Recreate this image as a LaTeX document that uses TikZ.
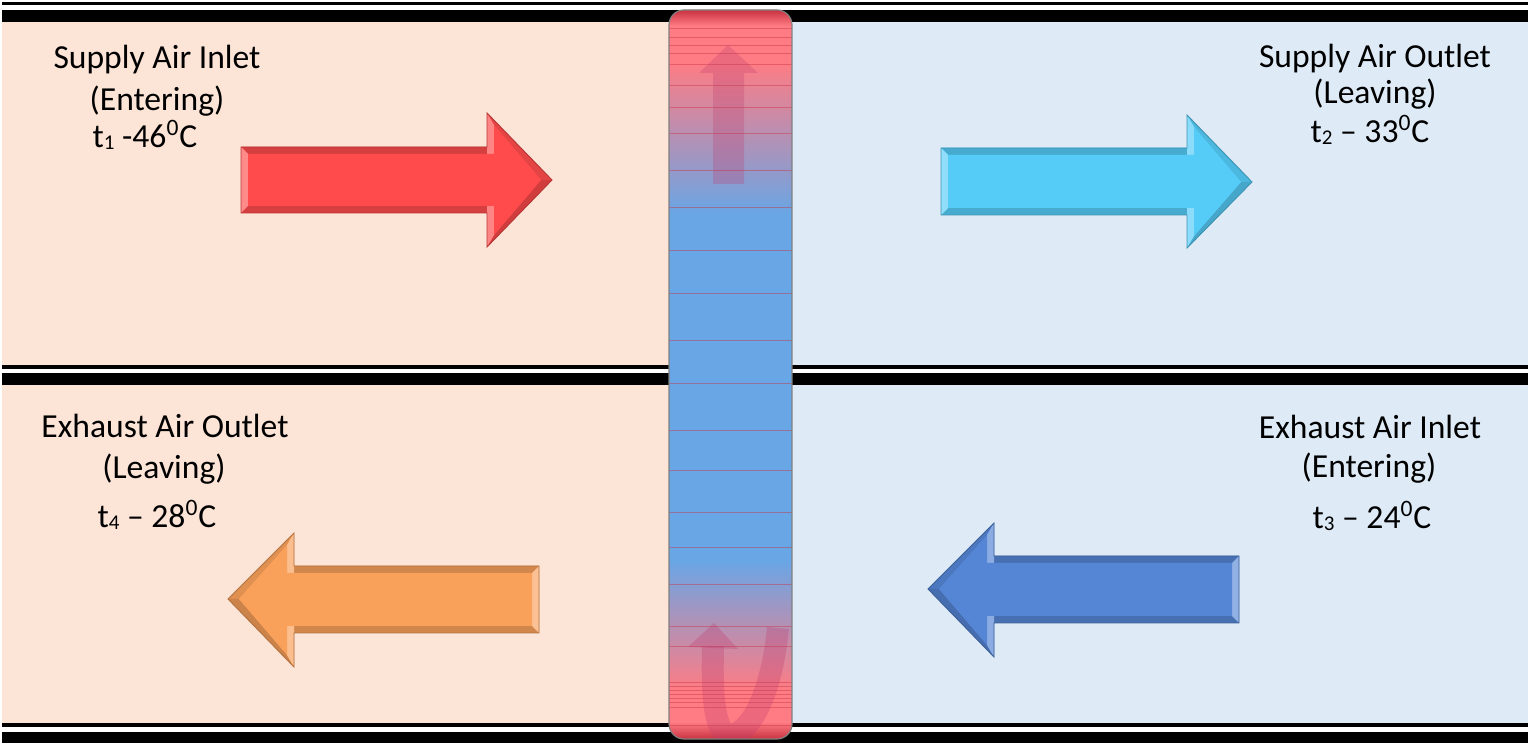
\documentclass[tikz,border=0pt]{standalone}
\usepackage{fontspec}
\setmainfont{Carlito}
\definecolor{peach}{RGB}{252,228,214}
\definecolor{paleblue}{RGB}{222,235,247}
\definecolor{colred}{RGB}{255,124,132}
\definecolor{coldark}{RGB}{200,50,65}
\definecolor{colblue}{RGB}{104,166,230}
\definecolor{arrred}{RGB}{255,75,75}
\definecolor{arrcyan}{RGB}{85,204,248}
\definecolor{arrorange}{RGB}{249,160,90}
\definecolor{arrblue}{RGB}{85,133,213}
\definecolor{tint}{RGB}{190,60,110}
\newcommand\sbs[1]{\raisebox{-0.1ex}{\fontsize{10.5}{10.5}\selectfont #1}}
\newcommand\mydeg{\textsuperscript{0}}
% right-pointing bevelled arrow: color, x0, yb0, yb1, xh, yh0, yh1, xt, yt
\newcommand\bevarrow[9]{%
  \fill[#1] (#2,#3) -- (#5,#3) -- (#5,#6) -- (#8,#9) -- (#5,#7) -- (#5,#4) -- (#2,#4) -- cycle;
  \fill[#1!84!black] (#2,#3) -- (#5+7,#3) -- (#5+7,#3+7) -- (#2+7,#3+7) -- cycle;
  \fill[#1!84!black] (#2,#4) -- (#5+7,#4) -- (#5+7,#4-7) -- (#2+7,#4-7) -- cycle;
  \fill[#1!90!black] (#5,#6) -- (#8,#9) -- (#8-11,#9) -- (#5+7,#6+12) -- cycle;
  \fill[#1!82!black] (#5,#7) -- (#8,#9) -- (#8-11,#9) -- (#5+7,#7-12) -- cycle;
  \fill[#1!65!white] (#2,#3) -- (#2+7,#3+7) -- (#2+7,#4-7) -- (#2,#4) -- cycle;
  \fill[#1!68!white] (#5,#6) -- (#5+7,#6+12) -- (#5+7,#3+7) -- (#5,#3+7) -- cycle;
  \fill[#1!68!white] (#5,#7) -- (#5+7,#7-12) -- (#5+7,#4-7) -- (#5,#4-7) -- cycle;
  \fill[#1] (#2+7,#3+7) -- (#5+7,#3+7) -- (#5+7,#6+12) -- (#8-11,#9) -- (#5+7,#7-12) -- (#5+7,#4-7) -- (#2+7,#4-7) -- cycle;
  \draw[#1!72!black, line width=0.45pt, line join=miter] (#2,#3) -- (#5,#3) -- (#5,#6) -- (#8,#9) -- (#5,#7) -- (#5,#4) -- (#2,#4) -- cycle;
}
\tikzset{
  lbl/.style={font=\fontsize{16.8}{20}\selectfont, anchor=base, inner sep=0pt},
  tlbl/.style={lbl, text height=11.5pt},
  duct/.style={line width=#1, black},
  colline/.style={coldark, line width=0.45pt, opacity=0.45}
}
\begin{document}
\begin{tikzpicture}[x=0.5pt,y=-0.5pt]
\useasboundingbox (0,0) rectangle (1536,747);
\fill[white] (0,0) rectangle (1536,747);
% panels
\fill[peach] (2,22) rectangle (700,366);
\fill[peach] (2,385) rectangle (700,724);
\fill[paleblue] (760,22) rectangle (1528,366);
\fill[paleblue] (760,385) rectangle (1528,724);
% duct walls
\draw[duct=1.5pt] (2,3.5) -- (1528,3.5);
\draw[duct=6pt] (2,16) -- (1528,16);
\draw[duct=2pt] (2,367) -- (1528,367);
\draw[duct=6pt] (2,379) -- (1528,379);
\draw[duct=2pt] (2,725) -- (1528,725);
\draw[duct=5.5pt] (2,737.5) -- (1528,737.5);
% heat exchanger column
\begin{scope}
\clip[rounded corners=7.5pt] (669,10) rectangle (792,739);
\fill[colred] (669,10) rectangle (792,62);
\fill[top color=coldark, bottom color=colred] (669,10) rectangle (792,26);
\fill[top color=colred, bottom color=colblue] (669,62) rectangle (792,215);
\fill[colblue] (669,215) rectangle (792,560);
\fill[top color=colblue, bottom color=colred] (669,560) rectangle (792,690);
\fill[colred] (669,690) rectangle (792,739);
\fill[top color=colred, bottom color=coldark] (669,722) rectangle (792,739);
\foreach \yy in {28,37,45,53,64,85,107,133,170,207,250,293,340,383,430,470,512,547,584,626,646,682,686,690,694,698,702,707,725}
  \draw[colline] (669,\yy) -- (792,\yy);
% translucent flow arrows
\fill[tint, fill opacity=0.28] (713,184) -- (713,73) -- (699,73) -- (728,45) -- (758,73) -- (744,73) -- (744,184) -- cycle;
\draw[tint, opacity=0.3, line width=11pt] (778,628) .. controls (772,690) and (752,733) .. (730,735) .. controls (713,733) and (712,690) .. (713,646);
\fill[tint, fill opacity=0.3] (688,647) -- (714,623) -- (738,649) -- cycle;
\end{scope}
\draw[gray, line width=0.6pt, rounded corners=7.5pt] (669,10) rectangle (792,739);
% main arrows
\bevarrow{arrred}{241}{147}{213}{487}{113}{247}{552}{180}
\bevarrow{arrcyan}{941}{148}{215}{1187}{115}{248}{1252}{182}
\begin{scope}[xscale=-1]
\bevarrow{arrorange}{-539}{566}{633}{-294}{533}{667}{-228}{599}
\bevarrow{arrblue}{-1239}{556}{623}{-994}{523}{657}{-928}{589}
\end{scope}
% labels
\node[lbl] (si1) at (157,69) {Supply Air Inlet};
\node[lbl] (si2) at (157,111) {(Entering)};
\node[tlbl] (si3) at (145,148) {t\sbs{1} -46\mydeg C};
\node[lbl] (so1) at (1375,68) {Supply Air Outlet};
\node[lbl] (so2) at (1375,104) {(Leaving)};
\node[tlbl] (so3) at (1370,143) {t\sbs{2} – 33\mydeg C};
\node[lbl] (eo1) at (165,438) {Exhaust Air Outlet};
\node[lbl] (eo2) at (164,479) {(Leaving)};
\node[tlbl] (eo3) at (157,528) {t\sbs{4} – 28\mydeg C};
\node[lbl] (ei1) at (1370,439) {Exhaust Air Inlet};
\node[lbl] (ei2) at (1369,478) {(Entering)};
\node[tlbl] (ei3) at (1372,529) {t\sbs{3} – 24\mydeg C};
\end{tikzpicture}
\end{document}
